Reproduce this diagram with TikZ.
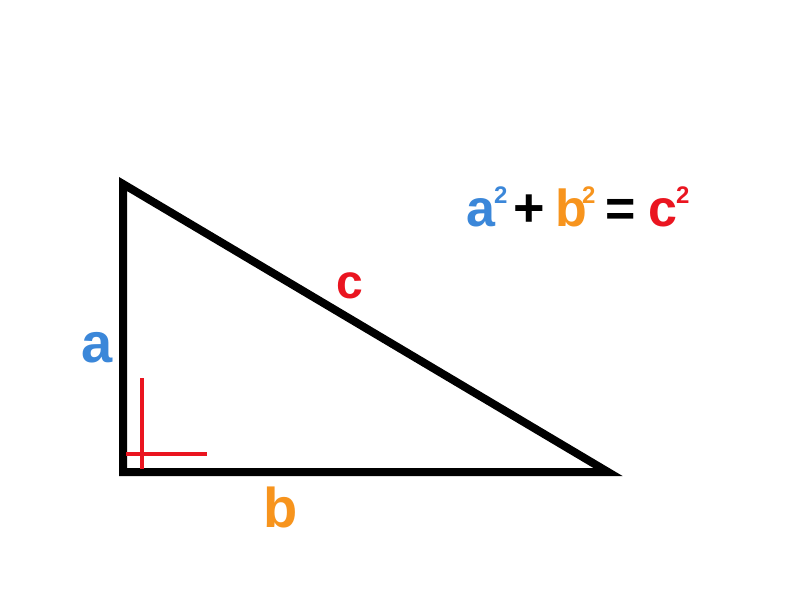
\documentclass[tikz,border=0pt]{standalone}
\usepackage{fontspec}
\setmainfont{Liberation Sans}
\definecolor{cblue}{HTML}{3B87D9}
\definecolor{corange}{HTML}{F7941D}
\definecolor{cred}{HTML}{EA1520}
\begin{document}
\begin{tikzpicture}[x=1pt,y=-1pt,
  side/.style={line width=8pt,line join=miter,black},
  rmark/.style={line width=4pt,cred},
  lbl/.style={inner sep=0pt,anchor=base,font=\bfseries\fontsize{56}{60}\selectfont},
  frm/.style={inner sep=0pt,anchor=base west,font=\bfseries\fontsize{52}{56}\selectfont},
  sup/.style={inner sep=0pt,anchor=base west,font=\bfseries\fontsize{24}{28}\selectfont}]
\useasboundingbox[fill=white] (0,0) rectangle (800,600);
\coordinate (A) at (123,184);
\coordinate (B) at (123,472);
\coordinate (C) at (608,472);
\draw[side] (A) -- (B) -- (C) -- cycle;
% right angle mark
\coordinate (m1) at (142,378);
\coordinate (m2) at (142,469);
\coordinate (m3) at (126,454);
\coordinate (m4) at (207,454);
\draw[rmark] (m1) -- (m2);
\draw[rmark] (m3) -- (m4);
% side labels
\node[lbl,text=cblue] (la) at (97,362) {a};
\node[lbl,text=corange] (lb) at (281,527) {b};
\node[lbl,text=cred,font=\bfseries\fontsize{48}{52}\selectfont] (lc) at (350,298) {c};
% formula
\node[frm,text=cblue] (fa) at (466,226) {a};
\node[sup,text=cblue] (fa2) at (494,203) {2};
\node[frm,text=black,font=\bfseries\fontsize{54}{58}\selectfont] (fp) at (513,226) {+};
\node[frm,text=corange] (fb) at (555,226) {b};
\node[sup,text=corange] (fb2) at (582,203) {2};
\node[frm,text=black] (fe) at (605,226) {=};
\node[frm,text=cred] (fc) at (648,226) {c};
\node[sup,text=cred] (fc2) at (676,203) {2};
\end{tikzpicture}
\end{document}
